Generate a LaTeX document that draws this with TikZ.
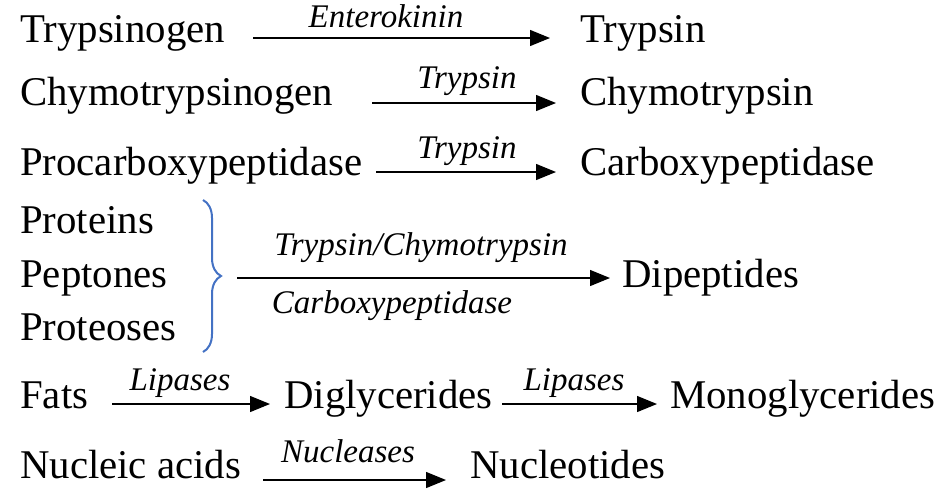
\documentclass[tikz,border=0pt]{standalone}
\usepackage{fontspec}
\setmainfont{Liberation Serif}[ItalicFont={Liberation Serif Italic}]
\usetikzlibrary{arrows.meta,decorations.pathreplacing}
\begin{document}
\begin{tikzpicture}[x=1pt,y=-1pt,
  t/.style={anchor=base west,inner sep=0,font=\fontsize{40.8}{44}\selectfont},
  lab/.style={anchor=base,inner sep=0,font=\fontsize{33}{36}\selectfont\itshape},
  arr/.style={-{Triangle[length=20pt,width=16pt]},line width=1.3pt}]
\useasboundingbox (0,0) rectangle (941,501);
\node[t] (a1) at (20,42) {Trypsinogen};
\node[t] (b1) at (580,42) {Trypsin};
\coordinate (s1) at (253,38); \coordinate (e1) at (550,38);
\draw[arr] (s1) -- (e1);
\node[lab] (l1) at (386,27) {Enterokinin};
\node[t] (a2) at (20,105) {Chymotrypsinogen};
\node[t] (b2) at (580,105) {Chymotrypsin};
\coordinate (s2) at (372,103); \coordinate (e2) at (556,103);
\draw[arr] (s2) -- (e2);
\node[lab] (l2) at (467,88) {Trypsin};
\node[t] (a3) at (20,175) {Procarboxypeptidase};
\node[t] (b3) at (580,175) {Carboxypeptidase};
\coordinate (s3) at (376,172); \coordinate (e3) at (556,172);
\draw[arr] (s3) -- (e3);
\node[lab] (l3) at (467,158) {Trypsin};
\node[t] (p1) at (20,233) {Proteins};
\node[t] (p2) at (20,287) {Peptones};
\node[t] (p3) at (20,340) {Proteoses};
\draw[draw={rgb,255:red,68;green,114;blue,196},line width=2pt,decorate,decoration={brace,amplitude=18pt}] (203,200) -- (203,352);
\node[t] (b4) at (622,287) {Dipeptides};
\coordinate (s4) at (237,278); \coordinate (e4) at (610,278);
\draw[arr] (s4) -- (e4);
\node[lab] (l4) at (421,255) {Trypsin/Chymotrypsin};
\node[lab] (l5) at (392,313) {Carboxypeptidase};
\node[t] (f1) at (20,408) {Fats};
\node[t] (f2) at (284,408) {Diglycerides};
\node[t] (f3) at (670,408) {Monoglycerides};
\coordinate (s5) at (112,404); \coordinate (e5) at (270,404);
\coordinate (s6) at (502,404); \coordinate (e6) at (657,404);
\draw[arr] (s5) -- (e5);
\draw[arr] (s6) -- (e6);
\node[lab] (l6) at (180,390) {Lipases};
\node[lab] (l7) at (574,390) {Lipases};
\node[t] (n1) at (20,478) {Nucleic acids};
\node[t] (n2) at (470,478) {Nucleotides};
\coordinate (s7) at (263,480); \coordinate (e7) at (446,480);
\draw[arr] (s7) -- (e7);
\node[lab] (l8) at (348,462) {Nucleases};
\end{tikzpicture}
\end{document}
